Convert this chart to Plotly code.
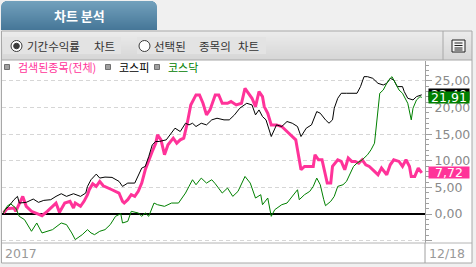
import plotly.graph_objects as go

# ---------------- data ----------------
series_names = ["검색된종목(전체)", "코스피", "코스닥"]

pink_day = [2,4,8,9,13,15,18,21,24,27,30,32,34,37,40,42,43,46,48,50,51,53,55,57,59,
            60,64,68,70,71,73,75,77,79,81,83,85,87,89,90,92,94,96,99,101,103,105,107,109,110,112,114,116,118,120,
            123,125,127,130,132,135,138,140,142,144,146,148,150,151,153,155,158,161,164,167,169,170,172,174,177,179,
            180,182,184,186,187,189,190,193,195,197,199,201,203,205,207,209,211,214,216,218,221,223,225,228,230,232,234,235,237,239,241]
pink_val = [0.19,1.0,1.13,0.5,3.31,1.44,0.5,0.06,-0.31,0.5,1.56,2.06,0.31,2.06,2.38,1.13,2.06,1.44,2.38,3.63,4.56,5.69,5.19,6.13,5.31,
            5.19,4.56,3.94,2.38,2.06,2.69,3.63,3.31,4.25,5.81,8.31,10.19,11.75,13.31,14.88,13.94,11.13,13.0,14.25,13.31,
            13.94,14.25,17.06,20.5,21.13,22.38,22.38,20.81,18.63,19.56,
            22.38,22.38,20.81,20.81,21.13,20.5,20.81,23.63,22.69,21.75,20.19,23.0,22.06,20.19,18.94,16.75,16.75,16.44,15.5,14.56,
            13.94,12.06,8.31,8.94,8.94,8.94,
            11.13,10.19,10.19,7.06,5.81,5.81,8.94,10.19,9.88,8.31,10.5,9.88,9.88,9.56,10.19,9.25,8.94,8.0,7.38,8.63,
            7.38,9.25,10.19,9.88,8.94,10.19,8.94,7.06,7.06,8.63,7.72]

kospi_day = [2,5,8,10,11,15,19,22,25,29,32,35,38,42,46,49,50,52,55,57,60,
             64,68,70,73,77,81,83,85,87,89,91,95,98,100,103,106,108,110,112,115,118,121,
             124,128,131,134,137,141,144,146,148,150,152,155,158,161,164,167,170,172,175,178,181,
             183,186,188,190,191,193,195,198,201,204,206,208,210,213,216,219,221,223,225,227,230,231,233,236,238,240,241]
kospi_val = [0.5,1.44,2.69,3.31,2.06,2.19,2.81,2.19,2.56,2.69,3.31,3.81,3.31,3.81,3.31,3.94,5.19,6.44,7.5,6.75,6.94,
             6.88,6.13,5.19,5.81,5.81,8.63,8.94,10.81,13.0,13.63,13.63,13.94,15.19,16.13,15.5,17.06,16.75,17.06,16.44,17.06,16.75,17.69,
             18.0,17.69,17.69,18.63,19.88,20.81,20.5,18.63,19.56,18.31,17.69,14.56,16.75,16.44,17.38,17.06,16.44,14.56,16.13,16.75,19.25,
             18.94,17.69,17.06,17.69,19.88,21.75,22.69,22.69,22.69,22.69,23.94,25.81,25.81,25.5,24.56,24.25,24.56,25.5,25.19,23.94,23.94,
             23.0,21.75,21.44,22.06,22.38,22.4]

kosdaq_day = [2,4,6,9,11,14,18,21,24,27,30,35,38,41,43,47,50,52,54,57,60,
              63,66,69,70,73,75,79,81,83,85,88,90,94,98,102,106,108,110,112,115,118,121,123,
              127,130,133,136,140,143,146,149,150,153,155,157,161,164,167,170,171,174,177,179,181,
              183,185,186,189,191,193,196,198,200,202,204,207,210,212,214,215,216,217,219,221,223,224,226,228,230,231,233,235,236,238,240,241]
kosdaq_val = [0.19,1.44,1.94,1.13,-0.44,-1.06,-3.25,-1.69,-3.56,-3.25,-2.94,-1.69,-2.0,-3.56,-4.81,-3.88,-2.94,-3.56,-3.88,-3.25,-2.94,
              -2.0,-0.44,0.06,-1.69,-1.38,0.5,0.19,-0.44,0.19,-0.44,2.06,1.75,1.44,2.06,2.06,3.94,5.19,6.44,5.5,6.75,5.81,6.44,5.69,
              3.94,4.88,3.31,4.25,7.06,5.81,3.0,3.63,1.75,3.0,-0.44,0.81,1.75,2.06,3.31,4.56,2.69,3.63,4.25,5.19,6.75,
              5.5,2.69,1.56,2.38,3.31,5.19,5.5,6.13,7.69,8.94,9.56,10.19,11.13,12.06,13.31,16.44,19.56,22.69,23.31,24.56,
              25.5,25.81,24.56,23.31,22.69,22.06,20.81,17.69,19.88,21.44,22.06,21.91]

y_ticks = [-5, 0, 5, 10, 15, 20, 25]
x_start_label = "2017"
x_end_label = "12/18"
tab_title = "차트 분석"
radio_labels = [["기간수익률", "차트"], ["선택된", "종목의", "차트"]]

PINK = "#ff3399"
BLACK = "#000000"
GREEN = "#008000"
KR = "Noto Sans CJK KR"
NUM = "DejaVu Sans"

W, H = 476, 267
def px(x): return x / W
def py(y): return 1 - y / H

def fmt(v):
    return f"{v:.2f}".replace(".", ",")

fig = go.Figure()
fig.add_trace(go.Scatter(x=pink_day, y=pink_val, mode="lines", name=series_names[0],
                         line=dict(color=PINK, width=3), hoverinfo="skip"))
fig.add_trace(go.Scatter(x=kospi_day, y=kospi_val, mode="lines", name=series_names[1],
                         line=dict(color=BLACK, width=1), hoverinfo="skip"))
fig.add_trace(go.Scatter(x=kosdaq_day, y=kosdaq_val, mode="lines", name=series_names[2],
                         line=dict(color=GREEN, width=1), hoverinfo="skip"))

shapes = []
def rect(x0, y0, x1, y1, fill, line=None, layer="below", lw=1):
    shapes.append(dict(type="rect", xref="paper", yref="paper", x0=px(x0), x1=px(x1),
                       y0=py(y1), y1=py(y0), fillcolor=fill, layer=layer,
                       line=dict(width=lw if line else 0, color=line or fill)))
def hline(x0, x1, y, color, layer="above", w=1):
    shapes.append(dict(type="line", xref="paper", yref="paper", x0=px(x0), x1=px(x1),
                       y0=py(y), y1=py(y), line=dict(color=color, width=w), layer=layer))
def vline(x, y0, y1, color, layer="above", w=1):
    shapes.append(dict(type="line", xref="paper", yref="paper", x0=px(x), x1=px(x),
                       y0=py(y0), y1=py(y1), line=dict(color=color, width=w), layer=layer))

def lerp(c0, c1, t):
    return "#%02x%02x%02x" % tuple(int(round(a + (b - a) * t)) for a, b in zip(c0, c1))

# tab with gradient + rounded top corners
tab_top, tab_bot, tx0, tx1, r = 1, 30, 1, 157, 6
c_top, c_bot = (114, 160, 188), (70, 119, 152)
n = tab_bot - tab_top
for i in range(n):
    dy = i + 0.5
    inset = 0
    if dy < r:
        inset = r - (r * r - (r - dy) ** 2) ** 0.5
    rect(tx0 + inset, tab_top + i, tx1 - inset, tab_top + i + 1, lerp(c_top, c_bot, i / (n - 1)))

# white frame for toolbar+chart
rect(1.5, 31, 472, 263, "#ffffff")
# toolbar gradient
t0, t1 = 31, 60
for i in range(t1 - t0):
    rect(1.5, t0 + i, 472, t0 + i + 1, lerp((236, 236, 236), (214, 214, 214), i / (t1 - t0 - 1)))
# radio highlight boxes
rect(3, 37, 121, 54, "#e3e3e3")
rect(137, 37, 266, 54, "#e3e3e3")

# frame lines
FR = "#a8a8a8"
hline(1.5, 472, 31, FR)
hline(1.5, 472, 60, FR)
hline(1.5, 472, 243, "#b4b4b4")
hline(1.5, 472, 263, FR)
vline(1.5, 31, 263, FR)
vline(472, 31, 263, FR)
vline(443, 31, 60, FR)
vline(425, 243, 263, "#a0a0a0")

# radio buttons
def circle(cx, cy, rr, fill, line, lw=1):
    shapes.append(dict(type="circle", xref="paper", yref="paper", x0=px(cx - rr), x1=px(cx + rr),
                       y0=py(cy + rr), y1=py(cy - rr), fillcolor=fill, line=dict(color=line, width=lw), layer="above"))
circle(16.5, 46, 5.5, "#ffffff", "#3a3a3a")
circle(16.5, 46, 2.8, "#3a3a3a", "#3a3a3a")
circle(144.5, 46, 5.5, "#ffffff", "#3a3a3a")

# list icon
rect(452, 40, 465, 52, "#f4f4f4", "#1e1e1e", layer="above")
for yy in (43, 45.5, 48, 50.5)[:4]:
    hline(454.5, 462.5, yy - 0.5 if yy > 50 else yy, "#1e1e1e")

# legend squares
for sx in (7, 108, 157):
    rect(sx - 2.5, 64.5, sx + 2.5, 69.5, "#a0a0a0", "#707070", layer="above")

annotations = []
def text(x, y, s, color, size, family=KR, xanchor="left", bold=False):
    annotations.append(dict(x=px(x), y=py(y), xref="paper", yref="paper", text=f"<b>{s}</b>" if bold else s,
                            showarrow=False, xanchor=xanchor, yanchor="middle",
                            font=dict(color=color, size=size, family=family)))

text(79, 15.5, tab_title, "#ffffff", 13, bold=True, xanchor="center")
text(24.5, 46, radio_labels[0][0], "#333333", 11.5)
text(91.5, 46, radio_labels[0][1], "#333333", 11.5)
text(151.5, 46, radio_labels[1][0], "#333333", 11.5)
text(196.5, 46, radio_labels[1][1], "#333333", 11.5)
text(235.5, 46, radio_labels[1][2], "#333333", 11.5)

text(15.5, 67, series_names[0], PINK, 11)
text(116.5, 67, series_names[1], BLACK, 11)
text(165.5, 67, series_names[2], GREEN, 11)

text(3, 253, x_start_label, "#999999", 12.5, family=NUM)
text(447, 253, x_end_label, "#999999", 12.5, family=NUM, xanchor="center")

# current value boxes
for val, col in ((kospi_val[-1], BLACK), (kosdaq_val[-1], GREEN), (pink_val[-1], PINK)):
    annotations.append(dict(x=px(449), xref="paper", y=val, yref="y", text=fmt(val), showarrow=False,
                            xanchor="center", yanchor="middle", bgcolor=col, width=40, height=11,
                            borderpad=0, font=dict(color="#ffffff", size=12.5, family=NUM)))

fig.update_layout(
    width=W, height=H, margin=dict(l=0, r=0, t=0, b=0),
    paper_bgcolor="#f0f0f0", plot_bgcolor="rgba(0,0,0,0)",
    showlegend=False, separators=",.",
    shapes=shapes, annotations=annotations,
    xaxis=dict(domain=[px(2), px(425)], range=[1.143, 242.86], visible=False, fixedrange=True),
    yaxis=dict(domain=[py(243), py(60.5)], range=[-5.45, 28.85], side="right", anchor="x",
               showline=True, linecolor="#a0a0a0", linewidth=1,
               ticks="outside", ticklen=6, tickcolor="#a0a0a0",
               tickvals=y_ticks, ticktext=["" if v < 0 else fmt(v) for v in y_ticks],
               tickfont=dict(color="#8a8a8a", size=12.5, family=NUM),
               showgrid=True, gridcolor="#d6d6d6", griddash="4px,3px", gridwidth=1,
               zeroline=True, zerolinecolor="#000000", zerolinewidth=1.5,
               minor=dict(ticks="outside", ticklen=3, dtick=1, tickcolor="#a0a0a0", showgrid=False),
               fixedrange=True),
)

fig.write_html("out.html")
